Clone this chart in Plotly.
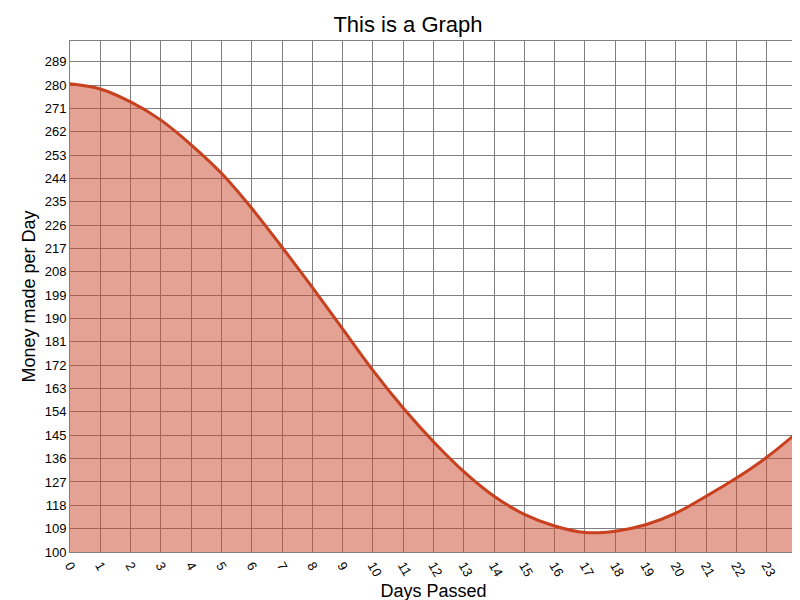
import plotly.graph_objects as go

days = list(range(25))
money = [280.5, 278.5, 273.5, 266.5, 257, 246, 232.5, 217.5, 202, 186, 170, 155.5,
         142.5, 131, 121.5, 114.5, 110, 107.5, 108, 110.5, 115, 121.5, 128.5, 136.5, 146]
yticks = list(range(100, 290, 9))

fig = go.Figure(go.Scatter(x=days, y=money, mode="lines", fill="tozeroy",
                           fillcolor="rgba(200,70,40,0.5)",
                           line=dict(color="#c8401e", width=3, shape="spline")))
fig.update_layout(
    width=800, height=600, paper_bgcolor="white", plot_bgcolor="white",
    margin=dict(l=62, r=11, t=33, b=56),
    title=dict(text="This is a Graph", x=0.5, y=0.985, yanchor="top",
               font=dict(family="Arial, Liberation Sans", size=22, color="black")),
    font=dict(family="Arial, Liberation Sans", color="black"),
    showlegend=False,
)
fig.update_xaxes(range=[0, 24], tickvals=days, tickangle=60, showgrid=True, automargin=False,
                 gridcolor="#808080", gridwidth=1, tickfont=dict(size=13),
                 title=dict(text="Days Passed", font=dict(size=18), standoff=6),
                 showline=True, linecolor="#808080", mirror=True, zeroline=False,
                 layer="above traces")
fig.update_yaxes(range=[100, 297], tickvals=yticks, showgrid=True, automargin=False,
                 gridcolor="#808080", gridwidth=1, tickfont=dict(size=13),
                 title=dict(text="Money made per Day", font=dict(size=18), standoff=4),
                 showline=True, linecolor="#808080", mirror=True, zeroline=False,
                 layer="above traces")
fig.write_html("out.html")
